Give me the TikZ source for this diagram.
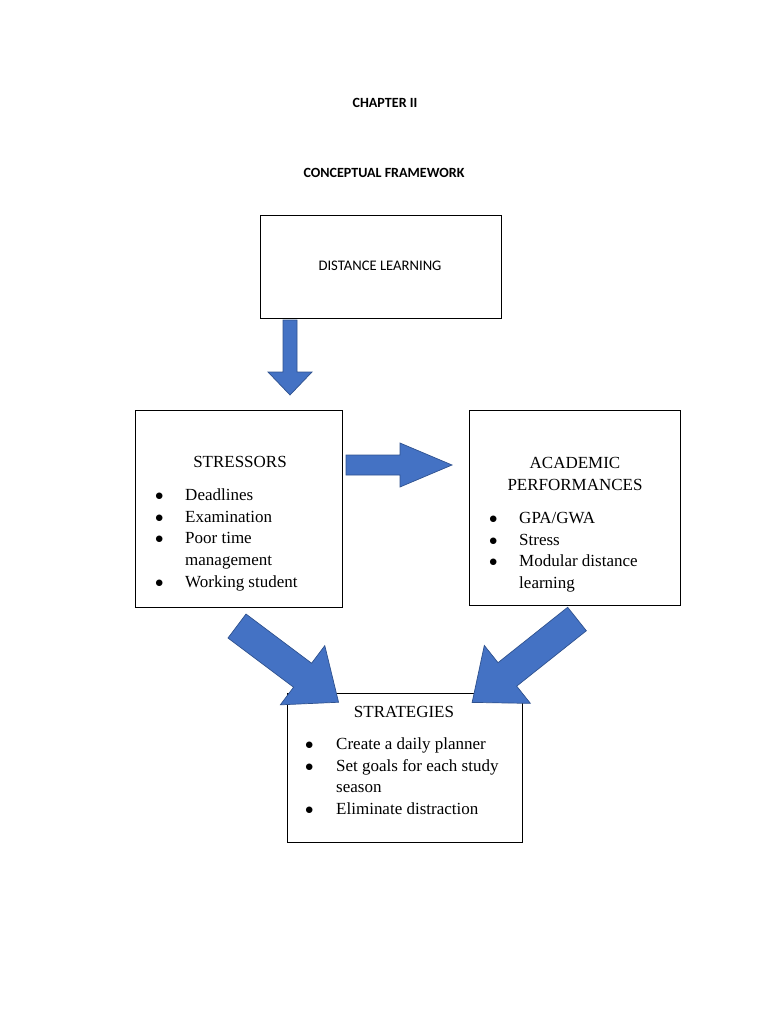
\documentclass[tikz,border=0pt]{standalone}
\usepackage{fontspec}
\setmainfont{Liberation Serif}
\newfontfamily\carlitofont{Carlito}
\definecolor{arrowfill}{HTML}{4472C4}
\definecolor{arrowline}{HTML}{2F528F}
% block arrow: start point, angle, length, shaft half width, head half width, head length
\newcommand{\blockarrow}[6]{%
  \begin{scope}[shift={(#1)},rotate=#2]
    \filldraw[fill=arrowfill,draw=arrowline,line width=0.6pt]
      (0,-#4) -- (#3-#6,-#4) -- (#3-#6,-#5) -- (#3,0) -- (#3-#6,#5)
      -- (#3-#6,#4) -- (0,#4) -- cycle;
  \end{scope}}
\begin{document}
\begin{tikzpicture}[x=0.03cm,y=-0.03cm,
    title/.style={font=\carlitofont\bfseries\fontsize{12}{14}\selectfont},
    body/.style={font=\fontsize{14.5}{18.5}\selectfont,align=left,anchor=north west,inner sep=0pt}]
  \useasboundingbox (0,0) rectangle (768,1024);
  \node[title] (ch) at (385,103) {CHAPTER II};
  \node[title] (cf) at (384,173) {CONCEPTUAL FRAMEWORK};

  % boxes
  \draw[line width=0.5pt] (260,215) rectangle (501,318);
  \node[font=\carlitofont\fontsize{12.5}{15}\selectfont] (dl) at (380,266) {DISTANCE LEARNING};

  \draw[line width=0.5pt] (135,410) rectangle (342,607);
  \node[font=\fontsize{14.5}{18}\selectfont] (st) at (240,462) {STRESSORS};
  \node[body] (stl) at (155,485) {%
    \begin{tabular}{@{}p{0.9cm}@{}l@{}}
    $\bullet$ & Deadlines\\
    $\bullet$ & Examination\\
    $\bullet$ & Poor time\\
     & management\\
    $\bullet$ & Working student
    \end{tabular}};

  \draw[line width=0.5pt] (469,410) rectangle (680,605);
  \node[font=\fontsize{14.5}{18.5}\selectfont,align=center] (ap) at (575,474) {ACADEMIC\\PERFORMANCES};
  \node[body] (apl) at (489,508) {%
    \begin{tabular}{@{}p{0.9cm}@{}l@{}}
    $\bullet$ & GPA/GWA\\
    $\bullet$ & Stress\\
    $\bullet$ & Modular distance\\
     & learning
    \end{tabular}};

  \draw[line width=0.5pt] (287,693) rectangle (522,842);
  \node[font=\fontsize{14.5}{18}\selectfont] (sg) at (404,712) {STRATEGIES};
  \node[body] (sgl) at (305,734) {%
    \begin{tabular}{@{}p{0.93cm}@{}l@{}}
    $\bullet$ & Create a daily planner\\
    $\bullet$ & Set goals for each study\\
     & season\\
    $\bullet$ & Eliminate distraction
    \end{tabular}};

  % arrows
  \blockarrow{290,320}{-90}{75}{7}{22}{23}
  \blockarrow{346,465}{0}{106}{10}{22}{52}
  \blockarrow{237,626}{-36.9}{127}{15}{37}{45}
  \blockarrow{577,619}{-141.5}{134}{15}{37}{45}
\end{tikzpicture}
\end{document}
